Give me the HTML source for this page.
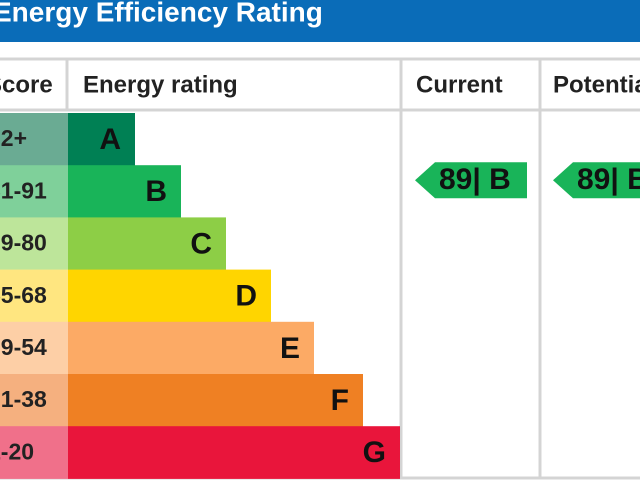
<!DOCTYPE html>
<html><head><meta charset="utf-8"><style>
html,body{margin:0;padding:0;background:#fff;width:640px;height:480px;overflow:hidden}
svg{display:block;font-family:"Liberation Sans",Arial,sans-serif}
</style></head><body>
<svg id="epc" width="640" height="480" viewBox="0 0 640 480">
<rect x="0" y="0" width="640" height="42" fill="#0a6cb8"/>
<text x="-7" y="14" dominant-baseline="middle" font-size="28" font-weight="bold" fill="#fff">Energy Efficiency Rating</text>
<g stroke="#d4d4d4" stroke-width="3" fill="none">
<line x1="0" y1="59" x2="640" y2="59"/>
<line x1="0" y1="110" x2="640" y2="110"/>
<line x1="0" y1="478" x2="640" y2="478"/>
<line x1="67" y1="59" x2="67" y2="110"/>
<line x1="401" y1="59" x2="401" y2="478"/>
<line x1="540" y1="59" x2="540" y2="478"/>
</g>
<text x="-14" y="86" dominant-baseline="middle" font-size="24" font-weight="bold" fill="#222">Score</text>
<text x="83" y="86" dominant-baseline="middle" font-size="24" font-weight="bold" fill="#222">Energy rating</text>
<text x="416" y="86" dominant-baseline="middle" font-size="24" font-weight="bold" fill="#222">Current</text>
<text x="553" y="86" dominant-baseline="middle" font-size="24" font-weight="bold" fill="#222">Potential</text>
<g id="bars"></g>
<g id="arrows"></g>
</svg>
<script>
const bands = ["A","B","C","D","E","F","G"];
const scoreRanges = ["92+","81-91","69-80","55-68","39-54","21-38","1-20"];
const barLengths = [67,113,158,203,246,295,332];
const currentScore = 89;
const currentBand = "B";
const potentialScore = 89;
const potentialBand = "B";
const colors = ["#008054","#19b459","#8dce46","#ffd500","#fcaa65","#ef8023","#e9153b"];
const lightColors = ["#6aab93","#7fd09a","#bde59a","#ffe680","#fdcfa6","#f5b07f","#f0708a"];
const NS="http://www.w3.org/2000/svg";
const top0=113, rowH=52.2, barX=68;
const yOf=i=>top0+i*rowH;
function mk(tag,attrs,parent){const e=document.createElementNS(NS,tag);for(const k in attrs)e.setAttribute(k,attrs[k]);parent.appendChild(e);return e;}
const bg=document.getElementById('bars');
bands.forEach((b,i)=>{
  const y=yOf(i);
  const sc=mk('rect',{x:0,y:y,width:barX,height:rowH+0.5,fill:lightColors[i]},bg);
  
  
  const st=mk('text',{x:-12,y:y+rowH/2+1,'dominant-baseline':'middle','font-size':23,'font-weight':'bold',fill:'#222'},bg);
  st.textContent=scoreRanges[i];
  
  
  const r=mk('rect',{x:barX,y:y,width:barLengths[i],height:rowH+0.5,fill:colors[i]},bg);
  
  
  const t=mk('text',{x:barX+barLengths[i]-14,y:y+rowH/2+2,'text-anchor':'end','dominant-baseline':'middle','font-size':30,'font-weight':'bold',fill:'#111'},bg);
  t.textContent=b;
  
  
});
const ag=document.getElementById('arrows');
function arrow(x,score,band,name){
  const i=bands.indexOf(band);
  const cy=yOf(i)+rowH/2-11, h=36, w=112;
  const p=mk('polygon',{points:`${x},${cy} ${x+20},${cy-h/2} ${x+w},${cy-h/2} ${x+w},${cy+h/2} ${x+20},${cy+h/2}`,fill:colors[i]},ag);
  
  
  const t=mk('text',{x:x+24,y:cy+1,'dominant-baseline':'middle','font-size':30,'font-weight':'bold',fill:'#111'},ag);
  t.textContent=score+'| '+band;
  
  
}
arrow(415,currentScore,currentBand,'current');
arrow(553,potentialScore,potentialBand,'potential');
</script>
</body></html>
